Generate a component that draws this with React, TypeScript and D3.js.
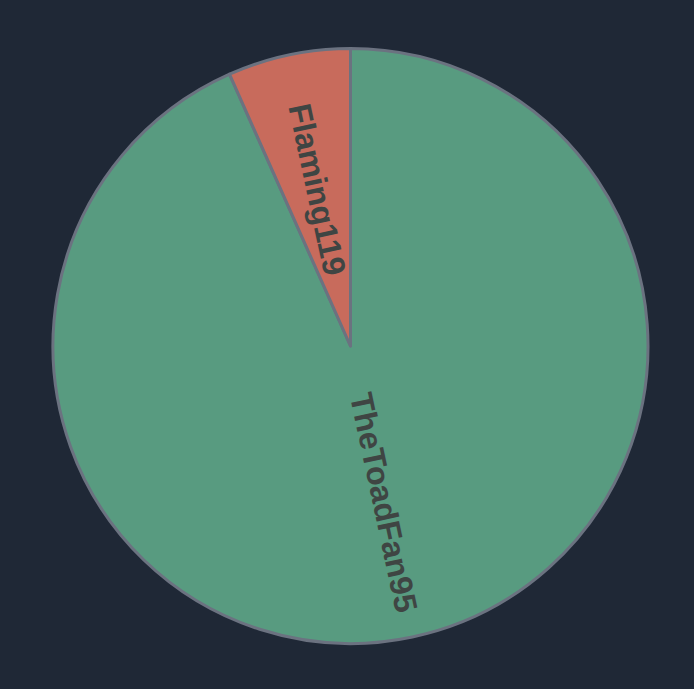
import React, { useEffect, useRef } from 'react'
import * as d3 from 'd3'

const players: string[] = ['TheToadFan95', 'Flaming119']
const wins: number[] = [14, 1]
const sliceColors: string[] = ['#589b80', '#c86b5c']

export default function App() {
    const ref = useRef<SVGSVGElement>(null)

    let width = 694, height = 689
    let cx = 350.5, cy = 346, radius = 299

    useEffect(() => {
        document.body.style.margin = '0'
        document.body.style.background = '#1f2836'

        const svg = d3.select(ref.current)
        svg.selectAll('*').remove()

        svg.append('rect')
            .attr('width', width)
            .attr('height', height)
            .attr('fill', '#1f2836')

        const data = players.map((p, i) => ({ name: p, value: wins[i], color: sliceColors[i] }))

        const pie = d3.pie<any>()
            .sort(null)
            .value((d: any) => d.value)

        const arc = d3.arc<any>()
            .innerRadius(0)
            .outerRadius(radius - 1.5)

        const g = svg.append('g')
            .attr('transform', 'translate(' + cx + ',' + cy + ')')

        const arcs = pie(data)

        g.selectAll('path')
            .data(arcs)
            .enter()
            .append('path')
            .attr('d', arc as any)
            .attr('fill', (d: any) => d.data.color)
            .attr('stroke', '#6b7280')
            .attr('stroke-width', 3)
            .attr('stroke-linejoin', 'round')

        // labels sit along the radius, rotated with the slice
        g.selectAll('text')
            .data(arcs)
            .enter()
            .append('text')
            .attr('transform', (d: any) => {
                const mid = (d.startAngle + d.endAngle) / 2
                const r = radius * 0.535
                const x = Math.sin(mid) * r
                const y = -Math.cos(mid) * r
                const deg = mid * 180 / Math.PI
                const rot = deg > 180 ? deg - 270 : deg - 90
                return 'translate(' + x + ',' + y + ') rotate(' + rot + ')'
            })
            .attr('text-anchor', 'middle')
            .attr('dominant-baseline', 'central')
            .style('font-family', '"Liberation Sans", Arial, sans-serif')
            .style('font-weight', 'bold')
            .style('font-size', '32px')
            .attr('fill', '#3f4543')
            .text((d: any) => d.data.name)
    }, [])

    return (
        <svg ref={ref} width={width} height={height} style={{ display: 'block' }} />
    )
}
